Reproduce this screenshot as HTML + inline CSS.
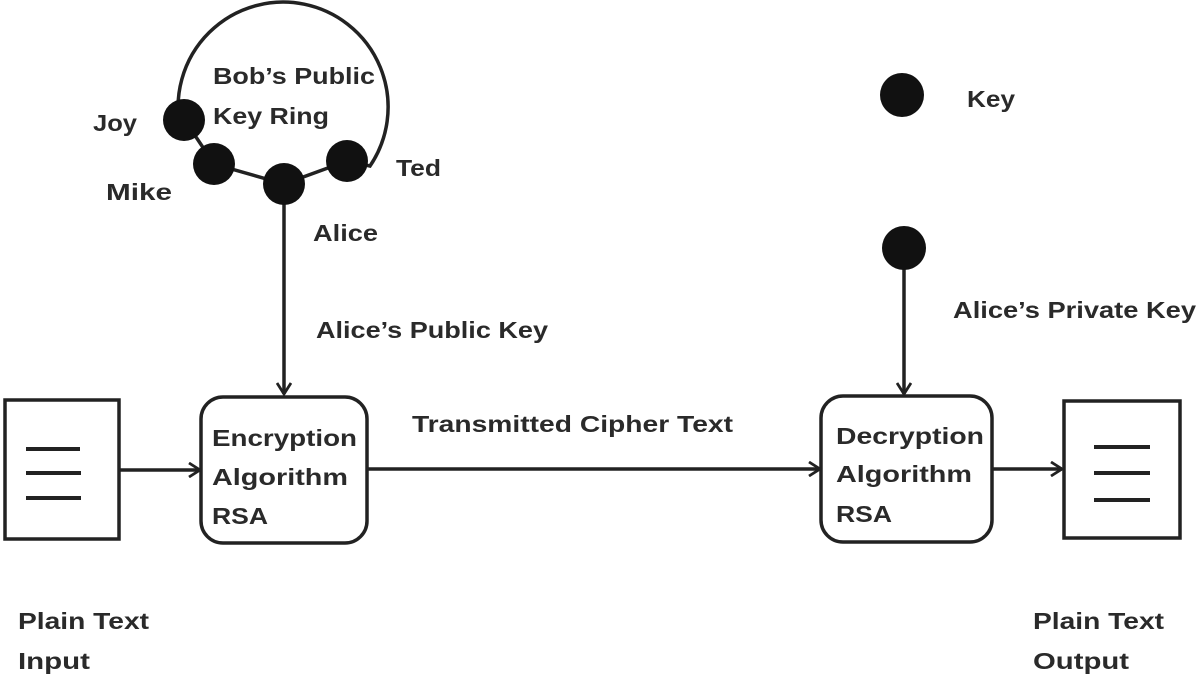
<!DOCTYPE html>
<html><head><meta charset="utf-8"><style>html,body{margin:0;padding:0;background:#fff}svg{display:block}</style></head>
<body>
<svg width="1200" height="677" viewBox="0 0 1200 677" xmlns="http://www.w3.org/2000/svg">
<defs><marker id="a" markerWidth="16" markerHeight="16" refX="13" refY="8" orient="auto" markerUnits="userSpaceOnUse"><path d="M2,1 L13,8 L2,15" fill="none" stroke="#222" stroke-width="2.8"/></marker></defs>
<g stroke="#222" stroke-width="3.5" fill="none">
<path d="M180,127 A105,105 0 1 1 370,166 L347,161"/>
<polyline points="184,119 214,164 284,184 347,161"/>
<line x1="284" y1="184" x2="284" y2="394" marker-end="url(#a)"/>
<line x1="904" y1="248" x2="904" y2="394" marker-end="url(#a)"/>
<rect x="5" y="400" width="114" height="139"/>
<rect x="1064" y="401" width="116" height="137"/>
<rect x="201" y="397" width="166" height="146" rx="22"/>
<rect x="821" y="396" width="171" height="146" rx="22"/>
<line x1="119" y1="470" x2="200" y2="470" marker-end="url(#a)"/>
<line x1="367" y1="469" x2="820" y2="469" marker-end="url(#a)"/>
<line x1="992" y1="469" x2="1062" y2="469" marker-end="url(#a)"/>
<g stroke-width="4">
<line x1="26" y1="449" x2="80" y2="449"/><line x1="26" y1="473" x2="81" y2="473"/><line x1="26" y1="498" x2="81" y2="498"/>
<line x1="1094" y1="447" x2="1150" y2="447"/><line x1="1094" y1="473" x2="1150" y2="473"/><line x1="1094" y1="500" x2="1150" y2="500"/>
</g></g>
<g fill="#111">
<circle cx="184" cy="120" r="21"/><circle cx="214" cy="164" r="21"/><circle cx="284" cy="184" r="21"/><circle cx="347" cy="161" r="21"/>
<circle cx="902" cy="95" r="22"/><circle cx="904" cy="248" r="22"/>
</g>
<g font-family="Liberation Sans, sans-serif" font-weight="bold" font-size="23" fill="#2a2a2a">
<text x="213" y="84" textLength="162" lengthAdjust="spacingAndGlyphs">Bob’s Public</text>
<text x="213" y="124" textLength="116" lengthAdjust="spacingAndGlyphs">Key Ring</text>
<text x="93" y="131" textLength="44" lengthAdjust="spacingAndGlyphs">Joy</text>
<text x="106" y="200" textLength="66" lengthAdjust="spacingAndGlyphs">Mike</text>
<text x="396" y="176" textLength="45" lengthAdjust="spacingAndGlyphs">Ted</text>
<text x="313" y="241" textLength="65" lengthAdjust="spacingAndGlyphs">Alice</text>
<text x="316" y="338" textLength="232" lengthAdjust="spacingAndGlyphs">Alice’s Public Key</text>
<text x="967" y="107" textLength="48" lengthAdjust="spacingAndGlyphs">Key</text>
<text x="953" y="318" textLength="243" lengthAdjust="spacingAndGlyphs">Alice’s Private Key</text>
<text x="412" y="432" textLength="321" lengthAdjust="spacingAndGlyphs">Transmitted Cipher Text</text>
<text x="212" y="446" textLength="145" lengthAdjust="spacingAndGlyphs">Encryption</text>
<text x="212" y="485" textLength="136" lengthAdjust="spacingAndGlyphs">Algorithm</text>
<text x="212" y="524" textLength="56" lengthAdjust="spacingAndGlyphs">RSA</text>
<text x="836" y="444" textLength="148" lengthAdjust="spacingAndGlyphs">Decryption</text>
<text x="836" y="482" textLength="136" lengthAdjust="spacingAndGlyphs">Algorithm</text>
<text x="836" y="522" textLength="56" lengthAdjust="spacingAndGlyphs">RSA</text>
<text x="18" y="629" textLength="131" lengthAdjust="spacingAndGlyphs">Plain Text</text>
<text x="18" y="669" textLength="72" lengthAdjust="spacingAndGlyphs">Input</text>
<text x="1033" y="629" textLength="131" lengthAdjust="spacingAndGlyphs">Plain Text</text>
<text x="1033" y="669" textLength="96" lengthAdjust="spacingAndGlyphs">Output</text>
</g>
</svg>
</body></html>
